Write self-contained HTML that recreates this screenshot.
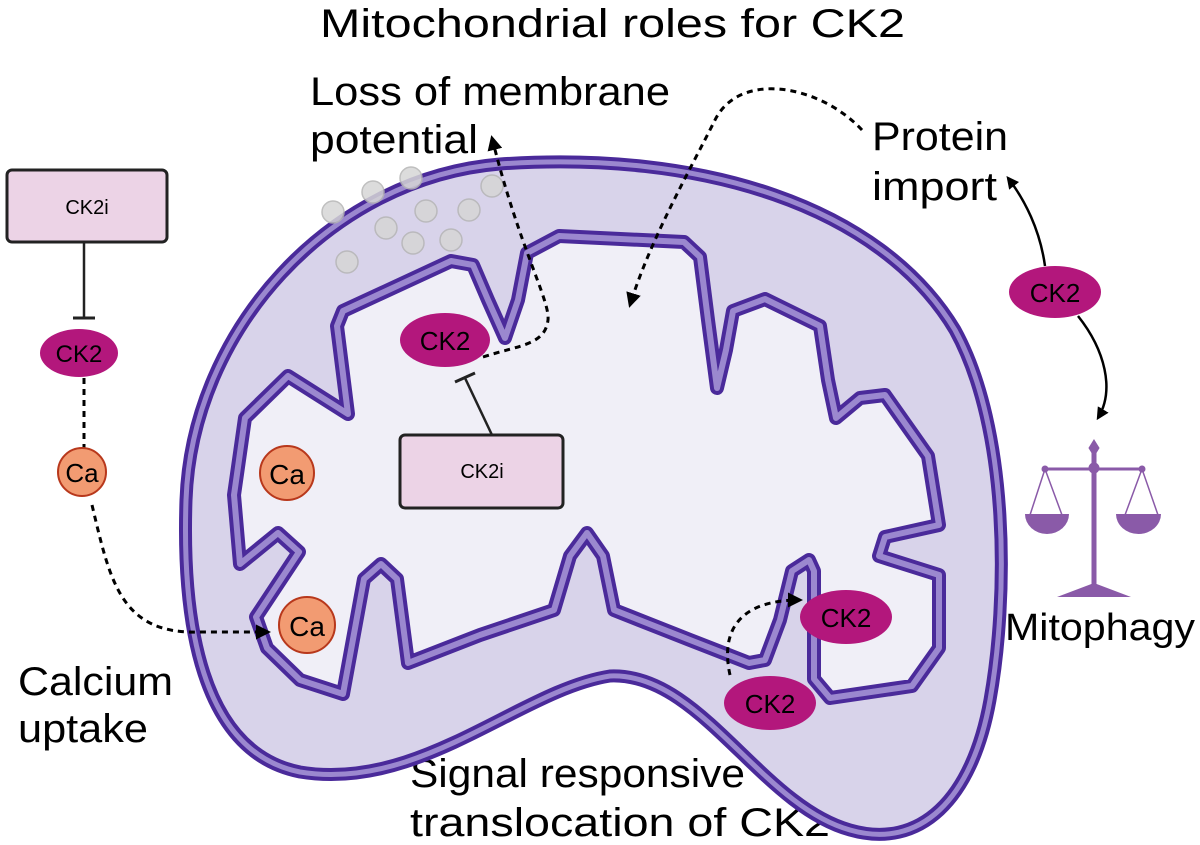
<!DOCTYPE html>
<html><head><style>body{margin:0;background:#fff}svg{display:block}text{font-family:"Liberation Sans",sans-serif}</style></head>
<body>
<svg width="1200" height="845" viewBox="0 0 1200 845">
<defs>
<marker id="ah" viewBox="0 0 10 10" refX="8" refY="5" markerWidth="5" markerHeight="5" orient="auto"><path d="M0,0L10,5L0,10z" fill="#000"/></marker>
</defs>
<text x="320" y="37" font-size="40" textLength="585" lengthAdjust="spacingAndGlyphs">Mitochondrial roles for CK2</text>
<text x="310" y="105" font-size="40" textLength="360" lengthAdjust="spacingAndGlyphs">Loss of membrane</text>
<text x="310" y="153" font-size="40" textLength="168" lengthAdjust="spacingAndGlyphs">potential</text>
<text x="872" y="150" font-size="40" textLength="136" lengthAdjust="spacingAndGlyphs">Protein</text>
<text x="872" y="200" font-size="40" textLength="125" lengthAdjust="spacingAndGlyphs">import</text>
<text x="18" y="695" font-size="40" textLength="155" lengthAdjust="spacingAndGlyphs">Calcium</text>
<text x="18" y="742" font-size="40" textLength="130" lengthAdjust="spacingAndGlyphs">uptake</text>
<text x="1005" y="640" font-size="38" textLength="190" lengthAdjust="spacingAndGlyphs">Mitophagy</text>
<text x="410" y="787" font-size="40" textLength="335" lengthAdjust="spacingAndGlyphs">Signal responsive</text>
<text x="410" y="836" font-size="40" textLength="420" lengthAdjust="spacingAndGlyphs">translocation of CK2</text>

<!-- outer membrane -->
<path d="M610,676 C520,690 420,792 300,772 C200,752 182,620 186,500 C192,330 330,178 500,164 C700,150 880,205 955,330 C1010,430 1008,600 990,700 C972,800 920,850 850,830 C760,805 700,672 610,676 Z" fill="#d8d3ea" stroke="#4a2a9a" stroke-width="13"/>
<path d="M610,676 C520,690 420,792 300,772 C200,752 182,620 186,500 C192,330 330,178 500,164 C700,150 880,205 955,330 C1010,430 1008,600 990,700 C972,800 920,850 850,830 C760,805 700,672 610,676 Z" fill="none" stroke="#9b88cf" stroke-width="5"/>

<!-- inner membrane -->
<g stroke-linejoin="round">
<polygon points="343,311 451,261 473,265 488,300 505,338 518,300 527,253 559,236 684,242 700,257 708,320 717,388 726,350 733,311 765,299 820,326 828,380 836,418 860,398 885,395 928,456 939,525 885,537 879,556 939,575 939,648 912,686 830,698 814,679 814,571 809,560 792,571 780,620 765,660 749,663 690,640 614,610 603,556 587,533 570,556 554,610 480,635 408,663 397,579 381,564 364,579 343,694 300,680 267,648 256,617 299,552 278,533 240,564 234,495 245,418 288,376 348,414 337,326" fill="#f0eff7" stroke="#4a2a9a" stroke-width="14"/>
<polygon points="343,311 451,261 473,265 488,300 505,338 518,300 527,253 559,236 684,242 700,257 708,320 717,388 726,350 733,311 765,299 820,326 828,380 836,418 860,398 885,395 928,456 939,525 885,537 879,556 939,575 939,648 912,686 830,698 814,679 814,571 809,560 792,571 780,620 765,660 749,663 690,640 614,610 603,556 587,533 570,556 554,610 480,635 408,663 397,579 381,564 364,579 343,694 300,680 267,648 256,617 299,552 278,533 240,564 234,495 245,418 288,376 348,414 337,326" fill="none" stroke="#9b88cf" stroke-width="6"/>
</g>

<!-- gray particles -->
<g fill="#d6d6d6" stroke="#b5b5b5" stroke-width="1.5" opacity="0.85">
<circle cx="333" cy="212" r="11"/><circle cx="373" cy="192" r="11"/><circle cx="411" cy="178" r="11"/><circle cx="426" cy="211" r="11"/><circle cx="386" cy="228" r="11"/><circle cx="413" cy="243" r="11"/><circle cx="451" cy="240" r="11"/><circle cx="469" cy="210" r="11"/><circle cx="492" cy="186" r="11"/><circle cx="347" cy="262" r="11"/>
</g>

<!-- left CK2i box -->
<rect x="7" y="170" width="160" height="72" rx="5" fill="#ecd3e6" stroke="#222" stroke-width="3"/>
<text x="87" y="214" font-size="20" text-anchor="middle">CK2i</text>
<line x1="84" y1="242" x2="84" y2="318" stroke="#222" stroke-width="2.5"/>
<line x1="73" y1="318" x2="95" y2="318" stroke="#222" stroke-width="3"/>
<ellipse cx="79" cy="353" rx="39" ry="24" fill="#b3177c"/>
<text x="79" y="362" font-size="24" text-anchor="middle">CK2</text>
<line x1="84" y1="378" x2="84" y2="450" stroke="#000" stroke-width="3" stroke-dasharray="6,5"/>
<circle cx="82" cy="472" r="24" fill="#f29b72" stroke="#b8381c" stroke-width="2"/>
<text x="82" y="482" font-size="26" text-anchor="middle">Ca</text>
<path d="M92,505 C110,580 120,635 200,632 L268,632" fill="none" stroke="#000" stroke-width="3" stroke-dasharray="6,5" marker-end="url(#ah)"/>

<!-- Ca inside -->
<circle cx="287" cy="473" r="27" fill="#f29b72" stroke="#b8381c" stroke-width="2"/>
<text x="287" y="484" font-size="28" text-anchor="middle">Ca</text>
<circle cx="307" cy="625" r="28" fill="#f29b72" stroke="#b8381c" stroke-width="2"/>
<text x="307" y="636" font-size="28" text-anchor="middle">Ca</text>

<!-- center CK2 + CK2i -->
<ellipse cx="445" cy="340" rx="45" ry="27" fill="#b3177c"/>
<text x="445" y="350" font-size="26" text-anchor="middle">CK2</text>
<path d="M483,357 C520,345 545,345 548,320 C550,300 520,250 492,138" fill="none" stroke="#000" stroke-width="3" stroke-dasharray="6,5" marker-end="url(#ah)"/>
<rect x="400" y="435" width="163" height="73" rx="5" fill="#ecd3e6" stroke="#222" stroke-width="3"/>
<text x="482" y="478" font-size="20" text-anchor="middle">CK2i</text>
<line x1="492" y1="435" x2="465" y2="378" stroke="#222" stroke-width="2.5"/>
<line x1="455" y1="382" x2="475" y2="373" stroke="#222" stroke-width="3"/>

<!-- protein import arrow -->
<path d="M862,130 C820,85 740,70 715,120 C690,170 650,240 630,305" fill="none" stroke="#000" stroke-width="3" stroke-dasharray="6,5" marker-end="url(#ah)"/>

<!-- right CK2 -->
<ellipse cx="1055" cy="292" rx="46" ry="26" fill="#b3177c"/>
<text x="1055" y="302" font-size="26" text-anchor="middle">CK2</text>
<path d="M1045,266 C1040,230 1025,200 1008,178" fill="none" stroke="#000" stroke-width="2.5" marker-end="url(#ah)"/>
<path d="M1078,316 C1105,350 1115,390 1098,418" fill="none" stroke="#000" stroke-width="2.5" marker-end="url(#ah)"/>

<!-- scale -->
<g fill="#8a5aa8" stroke="#8a5aa8">
<line x1="1094" y1="450" x2="1094" y2="585" stroke-width="5"/>
<path d="M1094,440 l5,8 l-5,8 l-5,-8z"/>
<circle cx="1094" cy="468" r="5"/>
<line x1="1045" y1="469" x2="1142" y2="469" stroke-width="3"/>
<circle cx="1045" cy="469" r="3"/><circle cx="1142" cy="469" r="3"/>
<path d="M1045,469 L1030,515 M1045,469 L1062,515 M1142,469 L1125,515 M1142,469 L1158,515" stroke-width="1.5" fill="none"/>
<path d="M1025,514 h44 a22,20 0 0 1 -44,0z" stroke="none"/>
<path d="M1116,514 h45 a22.5,20 0 0 1 -45,0z" stroke="none"/>
<path d="M1057,597 L1094,583 L1131,597z" stroke="none"/>
</g>

<!-- bottom right CK2 -->
<path d="M730,675 C720,630 740,600 800,600" fill="none" stroke="#000" stroke-width="3" stroke-dasharray="6,5" marker-end="url(#ah)"/>
<ellipse cx="846" cy="617" rx="46" ry="27" fill="#b3177c"/>
<text x="846" y="627" font-size="26" text-anchor="middle">CK2</text>
<ellipse cx="770" cy="703" rx="46" ry="27" fill="#b3177c"/>
<text x="770" y="713" font-size="26" text-anchor="middle">CK2</text>
</svg>
</body></html>
